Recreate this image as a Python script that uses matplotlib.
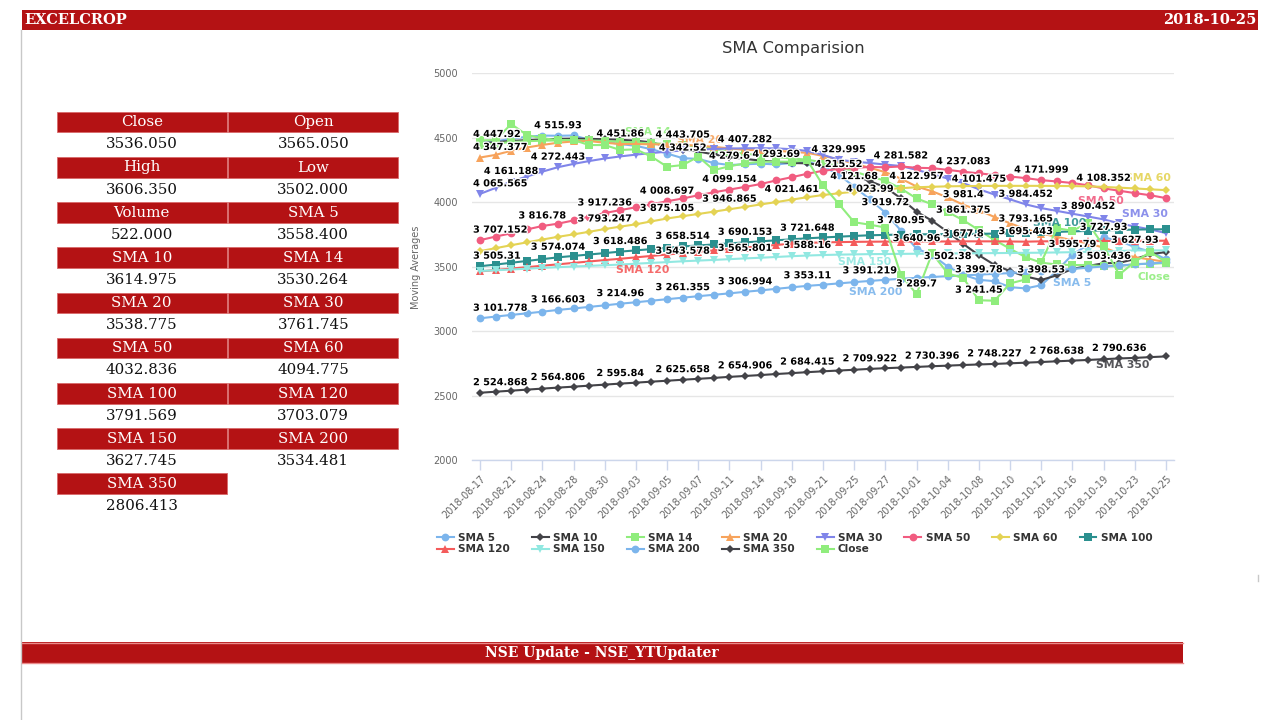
import matplotlib
matplotlib.use('Agg')
import matplotlib.pyplot as plt
from matplotlib.lines import Line2D
from matplotlib.patches import Rectangle
import matplotlib.patheffects as pe

# ---------------- data ----------------
dates = ['2018-08-17', '2018-08-20', '2018-08-21', '2018-08-23', '2018-08-24', '2018-08-27', '2018-08-28',
         '2018-08-29', '2018-08-30', '2018-08-31', '2018-09-03', '2018-09-04', '2018-09-05', '2018-09-06',
         '2018-09-07', '2018-09-10', '2018-09-11', '2018-09-12', '2018-09-14', '2018-09-17', '2018-09-18',
         '2018-09-19', '2018-09-21', '2018-09-24', '2018-09-25', '2018-09-26', '2018-09-27', '2018-09-28',
         '2018-10-01', '2018-10-03', '2018-10-04', '2018-10-05', '2018-10-08', '2018-10-09', '2018-10-10',
         '2018-10-11', '2018-10-12', '2018-10-15', '2018-10-16', '2018-10-17', '2018-10-19', '2018-10-22',
         '2018-10-23', '2018-10-24', '2018-10-25']

sma5 = [4468, 4472, 4494, 4508, 4517.6, 4515.93, 4518.2, 4485.6, 4470, 4452,
        4437.6, 4411.8, 4378.2, 4342.52, 4336.8, 4304.6, 4289.7, 4294.9, 4300.1, 4293.69,
        4305.4, 4314.7, 4280.5, 4215.52, 4121.68, 4023.99, 3919.72, 3780.95, 3640.96, 3592.7,
        3502.38, 3438.9, 3399.78, 3389.5, 3342.9, 3333.5, 3358, 3469.8, 3595.79, 3671.8,
        3727.93, 3704, 3652, 3619.2, 3558.4]
sma10 = [4460, 4466, 4476, 4482, 4488, 4492, 4494, 4492, 4489, 4484.8,
         4477.9, 4465, 4431.9, 4408.6, 4394.4, 4371.1, 4350.8, 4336.6, 4323.7, 4314.6,
         4305, 4302.2, 4287.7, 4257.8, 4207, 4164.7, 4117, 4030.7, 3928.2, 3857,
         3770.7, 3677.8, 3590.4, 3515.2, 3467.8, 3425.4, 3398.53, 3434.8, 3483.8, 3507.3,
         3528.3, 3531, 3560.9, 3598.7, 3614.975]
sma14 = [4447.92, 4455, 4468, 4474, 4478, 4480, 4482, 4480, 4476, 4470,
         4464, 4458, 4452, 4443.705, 4432.3, 4415.6, 4392.3, 4376.5, 4363.6, 4351.7,
         4339.7, 4331.2, 4308.9, 4279.2, 4238.8, 4201.2, 4167.5, 4106.7, 4030.6, 3984.6,
         3925.3, 3861.375, 3785.1, 3708.2, 3640.8, 3574.9, 3532.4, 3518.8, 3514.1, 3515,
         3504.6, 3504.9, 3522.7, 3523.5, 3530.264]
sma20 = [4347.377, 4368, 4400, 4425, 4445, 4462, 4472, 4475, 4462, 4451.86,
         4452, 4450, 4448, 4445, 4440, 4430, 4418, 4407.282, 4403, 4399.7,
         4391.5, 4383.6, 4359.8, 4333.2, 4300.7, 4267.9, 4234, 4183.7, 4122.957, 4085.9,
         4037.8, 3981.4, 3939.1, 3886.5, 3837.4, 3793.165, 3757.9, 3732.8, 3706, 3682.3,
         3649.5, 3605.2, 3575.7, 3557, 3538.775]
sma30 = [4065.565, 4112, 4161.188, 4200, 4238, 4272.443, 4298, 4320, 4340, 4356,
         4370, 4382, 4393, 4402, 4409, 4414, 4417, 4419, 4420, 4418,
         4412, 4398, 4368, 4329.995, 4316, 4305, 4293, 4281.582, 4252, 4218.9,
         4184.5, 4148.9, 4101.475, 4060.5, 4023.1, 3984.452, 3955.5, 3934, 3911.9, 3890.452,
         3868, 3837.5, 3813, 3790.6, 3761.745]
sma50 = [3707.152, 3735, 3760, 3790, 3816.78, 3835, 3860, 3890, 3917.236, 3940,
         3962, 3985, 4008.697, 4030, 4055, 4078, 4099.154, 4120, 4142, 4170,
         4195, 4222, 4245, 4258, 4268, 4274, 4272, 4278, 4268, 4265,
         4252, 4237.083, 4225, 4212, 4200, 4188, 4171.999, 4162, 4150, 4132,
         4108.352, 4090, 4072, 4055, 4032.836]
sma60 = [3622, 3645, 3668, 3690, 3712, 3733, 3752, 3772, 3793.247, 3812,
         3830, 3853, 3875.105, 3893, 3910, 3928, 3946.865, 3965, 3984, 4002,
         4021.461, 4040, 4057, 4070, 4083, 4093, 4102, 4110, 4117, 4121,
         4124, 4126, 4127, 4128, 4128, 4128, 4128, 4127, 4126, 4124,
         4120, 4114, 4108, 4101, 4094.775]
sma100 = [3505.31, 3518, 3532, 3546, 3560, 3574.074, 3585, 3596, 3607, 3618.486,
          3628, 3638, 3648, 3658.514, 3666, 3674, 3682, 3690.153, 3698, 3706,
          3714, 3721.648, 3728, 3734, 3740, 3745, 3748, 3750, 3752, 3753,
          3754, 3755, 3756, 3758, 3760, 3763, 3767, 3771, 3775, 3779,
          3783, 3786, 3789, 3791, 3791.569]
sma120 = [3465, 3476, 3487, 3498, 3509, 3520, 3531, 3542, 3553, 3563,
          3574, 3585, 3596, 3607, 3617, 3628, 3639, 3650, 3660, 3670,
          3680, 3686, 3690, 3692, 3694, 3695, 3696, 3696, 3697, 3697,
          3697, 3698, 3698, 3698, 3697, 3695.443, 3698, 3699, 3700, 3700,
          3701, 3701, 3702, 3702, 3703.079]
sma150 = [3468, 3474, 3480, 3486, 3492, 3498, 3503, 3508, 3513, 3518,
          3525, 3531, 3537, 3543.578, 3549, 3554, 3560, 3565.801, 3571, 3577,
          3583, 3588.16, 3592, 3595, 3597, 3599, 3600, 3601, 3602, 3603,
          3604, 3605, 3606, 3607, 3608, 3609, 3610, 3612, 3614, 3617,
          3620, 3623, 3627.93, 3628, 3627.745]
sma200 = [3101.778, 3115, 3128, 3140, 3153, 3166.603, 3178, 3190, 3202, 3214.96,
          3226, 3238, 3250, 3261.355, 3273, 3284, 3295, 3306.994, 3318, 3330,
          3342, 3353.11, 3362, 3372, 3382, 3391.219, 3400, 3408, 3415, 3422,
          3428, 3434, 3440, 3446, 3452, 3460, 3468, 3476, 3484, 3494,
          3503.436, 3511, 3519, 3527, 3534.481]
sma350 = [2524.868, 2533, 2541, 2549, 2557, 2564.806, 2572, 2580, 2588, 2595.84,
          2603, 2611, 2618, 2625.658, 2633, 2640, 2648, 2654.906, 2662, 2670,
          2677, 2684.415, 2691, 2697, 2703, 2709.922, 2715, 2720, 2725, 2730.396,
          2735, 2740, 2744, 2748.227, 2753, 2758, 2763, 2768.638, 2774, 2779,
          2785, 2790.636, 2795, 2801, 2806.413]
close = [4480, 4483, 4607, 4522, 4496, 4483, 4483, 4444, 4444, 4406,
         4411, 4354, 4276, 4289, 4354, 4250, 4279.6, 4302, 4315, 4315.6,
         4315, 4326, 4131, 3990, 3846, 3827, 3805, 3437, 3289.7, 3605,
         3450, 3413, 3241.45, 3238, 3372, 3403, 3536, 3800, 3780, 3840,
         3660, 3440, 3540, 3616, 3536.05]

series_names = ['SMA 5', 'SMA 10', 'SMA 14', 'SMA 20', 'SMA 30', 'SMA 50', 'SMA 60',
                'SMA 100', 'SMA 120', 'SMA 150', 'SMA 200', 'SMA 350', 'Close']
series_values = [sma5, sma10, sma14, sma20, sma30, sma50, sma60,
                 sma100, sma120, sma150, sma200, sma350, close]

# indices of points whose value label is visible
label_points = {
    'SMA 5': [5, 13, 19, 23, 24, 25, 26, 27, 28, 30, 32, 38, 40],
    'SMA 10': [31, 36],
    'SMA 14': [0, 13, 31],
    'SMA 20': [0, 9, 17, 28, 31, 35],
    'SMA 30': [0, 2, 5, 23, 27, 32, 35, 39],
    'SMA 50': [0, 4, 8, 12, 16, 31, 36, 40],
    'SMA 60': [8, 12, 16, 20],
    'SMA 100': [0, 5, 9, 13, 17, 21],
    'SMA 120': [35],
    'SMA 150': [13, 17, 21, 42],
    'SMA 200': [0, 5, 9, 13, 17, 21, 25, 40],
    'SMA 350': [0, 5, 9, 13, 17, 21, 25, 29, 33, 37, 41],
    'Close': [16, 28, 32],
}

# series-name labels placed in the plot (x index, y value)
name_label_pos = {
    'SMA 14': (10.8, 4545), 'SMA 20': (14.1, 4483), 'SMA 120': (10.45, 3476),
    'SMA 150': (24.7, 3538), 'SMA 200': (25.4, 3305), 'SMA 5': (38.0, 3375),
    'SMA 350': (41.2, 2740), 'Close': (43.2, 3421), 'SMA 30': (42.65, 3910),
    'SMA 50': (39.8, 4010), 'SMA 60': (42.85, 4189), 'SMA 100': (37.2, 3840),
}

table_headers = ['Close', 'Open', 'High', 'Low', 'Volume', 'SMA 5', 'SMA 10', 'SMA 14',
                 'SMA 20', 'SMA 30', 'SMA 50', 'SMA 60', 'SMA 100', 'SMA 120',
                 'SMA 150', 'SMA 200', 'SMA 350']
table_values = ['3536.050', '3565.050', '3606.350', '3502.000', '522.000', '3558.400',
                '3614.975', '3530.264', '3538.775', '3761.745', '4032.836', '4094.775',
                '3791.569', '3703.079', '3627.745', '3534.481', '2806.413']

colors = ['#7cb5ec', '#434348', '#90ed7d', '#f7a35c', '#8085e9', '#f15c80', '#e4d354',
          '#2b908f', '#f45b5b', '#91e8e1', '#7cb5ec', '#434348', '#90ed7d']
markers = ['o', 'D', 's', '^', 'v', 'o', 'D', 's', '^', 'v', 'o', 'D', 's']
msizes = {'o': 5.6, 'D': 4.2, 's': 5.2, '^': 5.6, 'v': 5.6}

RED = '#b41214'
W, H = 1280, 720

fig = plt.figure(figsize=(12.8, 7.2), dpi=100)
fig.patch.set_facecolor('white')


def rect(x, y, w, h, **kw):
    fig.add_artist(Rectangle((x / W, 1 - (y + h) / H), w / W, h / H,
                             transform=fig.transFigure, **kw))


def ftext(x, y, s, **kw):
    fig.text(x / W, 1 - y / H, s, **kw)


# page decorations
fig.add_artist(Line2D([21 / W, 21 / W], [1 - 30 / H, 0], transform=fig.transFigure,
                      color='#c8c8c8', lw=1))
fig.add_artist(Line2D([1258 / W, 1258 / W], [1 - 575 / H, 1 - 581 / H],
                      transform=fig.transFigure, color='#c8c8c8', lw=1))
rect(22, 10, 1236, 20, facecolor=RED, edgecolor='none')
ftext(24, 20, 'EXCELCROP', ha='left', va='center', color='white',
      fontsize=10.5, fontweight='bold', family='DejaVu Serif')
ftext(1256, 20, '2018-10-25', ha='right', va='center', color='white',
      fontsize=10.5, fontweight='bold', family='DejaVu Serif')

rect(22, 642, 1161, 21, facecolor=RED, edgecolor='none')
fig.add_artist(Line2D([22 / W, 1183 / W], [1 - 642.5 / H, 1 - 642.5 / H],
                      transform=fig.transFigure, color='#ea8a8a', lw=1))
fig.add_artist(Line2D([22 / W, 1183 / W], [1 - 662.5 / H, 1 - 662.5 / H],
                      transform=fig.transFigure, color='#ea8a8a', lw=1))
ftext(602, 652.5, 'NSE Update - NSE_YTUpdater', ha='center', va='center', color='white',
      fontsize=10, fontweight='bold', family='DejaVu Serif')

# left table
col_x = [56.7, 228.3]
col_w = 170
for k, (hdr, val) in enumerate(zip(table_headers, table_values)):
    r, c = divmod(k, 2)
    top = 111.7 + r * 45.2
    rect(col_x[c], top, col_w, 20.6, facecolor=RED, edgecolor='#d86a6a', lw=0.6)
    ftext(col_x[c] + col_w / 2, top + 10.6, hdr, ha='center', va='center', color='white',
          fontsize=10.8, family='DejaVu Serif')
    ftext(col_x[c] + col_w / 2, top + 32.6, val, ha='center', va='center', color='#111111',
          fontsize=10.8, family='DejaVu Serif')

# chart
ftext(793, 48, 'SMA Comparision', ha='center', va='center', fontsize=11.7, color='#333333')

ax = fig.add_axes([472.2 / W, 1 - 460.5 / H, (1173.8 - 472.2) / W, (460.5 - 73.3) / H])
x = list(range(len(dates)))
ax.set_xlim(-0.5, len(dates) - 0.5)
ax.set_ylim(2000, 5000)
ax.set_yticks([2000, 2500, 3000, 3500, 4000, 4500, 5000])
ax.grid(axis='y', color='#e6e6e6', lw=1)
ax.set_axisbelow(True)
for s in ['top', 'right', 'left']:
    ax.spines[s].set_visible(False)
ax.spines['bottom'].set_color('#ccd6eb')
ax.spines['bottom'].set_linewidth(1)
ax.tick_params(axis='y', length=0, pad=10, labelsize=7, labelcolor='#666666')
ax.set_xticks(x[::2])
ax.set_xticklabels(dates[::2], rotation=45, ha='right', rotation_mode='anchor')
ax.tick_params(axis='x', length=7.2, width=1, color='#ccd6eb', pad=2,
               labelsize=7, labelcolor='#666666')
ax.set_ylabel('Moving Averages', fontsize=7, color='#666666')
ax.yaxis.set_label_coords(-0.073, 0.5)

handles = {}
for k, (name, vals) in enumerate(zip(series_names, series_values)):
    m = markers[k]
    ln, = ax.plot(x, vals, color=colors[k], lw=1.5, marker=m, ms=msizes[m],
                  markeredgewidth=0, zorder=2 + k * 0.1, clip_on=False, label=name)
    handles[name] = ln

outline = [pe.withStroke(linewidth=1.8, foreground='white')]
for k, (name, vals) in enumerate(zip(series_names, series_values)):
    for i in label_points.get(name, []):
        v = vals[i]
        txt = format(v, ',').replace(',', ' ')
        if i == 0:
            ax.annotate(txt, xy=(i, v), xytext=(-5, 4), textcoords='offset points',
                        ha='left', va='bottom', fontsize=7, fontweight='bold',
                        color='black', path_effects=outline, zorder=10)
        else:
            ax.annotate(txt, xy=(i, v), xytext=(0, 4), textcoords='offset points',
                        ha='center', va='bottom', fontsize=7, fontweight='bold',
                        color='black', path_effects=outline, zorder=10)

for k, name in enumerate(series_names):
    if name in name_label_pos:
        px, py = name_label_pos[name]
        ax.text(px, py, name, ha='center', va='center', fontsize=7.8, fontweight='bold',
                color=colors[k], zorder=9, alpha=0.9)

# legend (Highcharts fills rows; matplotlib fills columns -> reorder)
order = ['SMA 5', 'SMA 120', 'SMA 10', 'SMA 150', 'SMA 14', 'SMA 200', 'SMA 20', 'SMA 350',
         'SMA 30', 'Close', 'SMA 50', 'SMA 60', 'SMA 100']
leg = ax.legend([handles[n] for n in order], order, loc='upper left',
                bbox_to_anchor=(437 / W, 1 - 533 / H), bbox_transform=fig.transFigure,
                ncol=8, frameon=False, prop={'weight': 'bold', 'size': 7.6},
                handlelength=1.6, handletextpad=0.4, columnspacing=2.1,
                labelspacing=0.12, borderpad=0, borderaxespad=0)
for t in leg.get_texts():
    t.set_color('#333333')

fig.savefig('out.png', dpi=100)
